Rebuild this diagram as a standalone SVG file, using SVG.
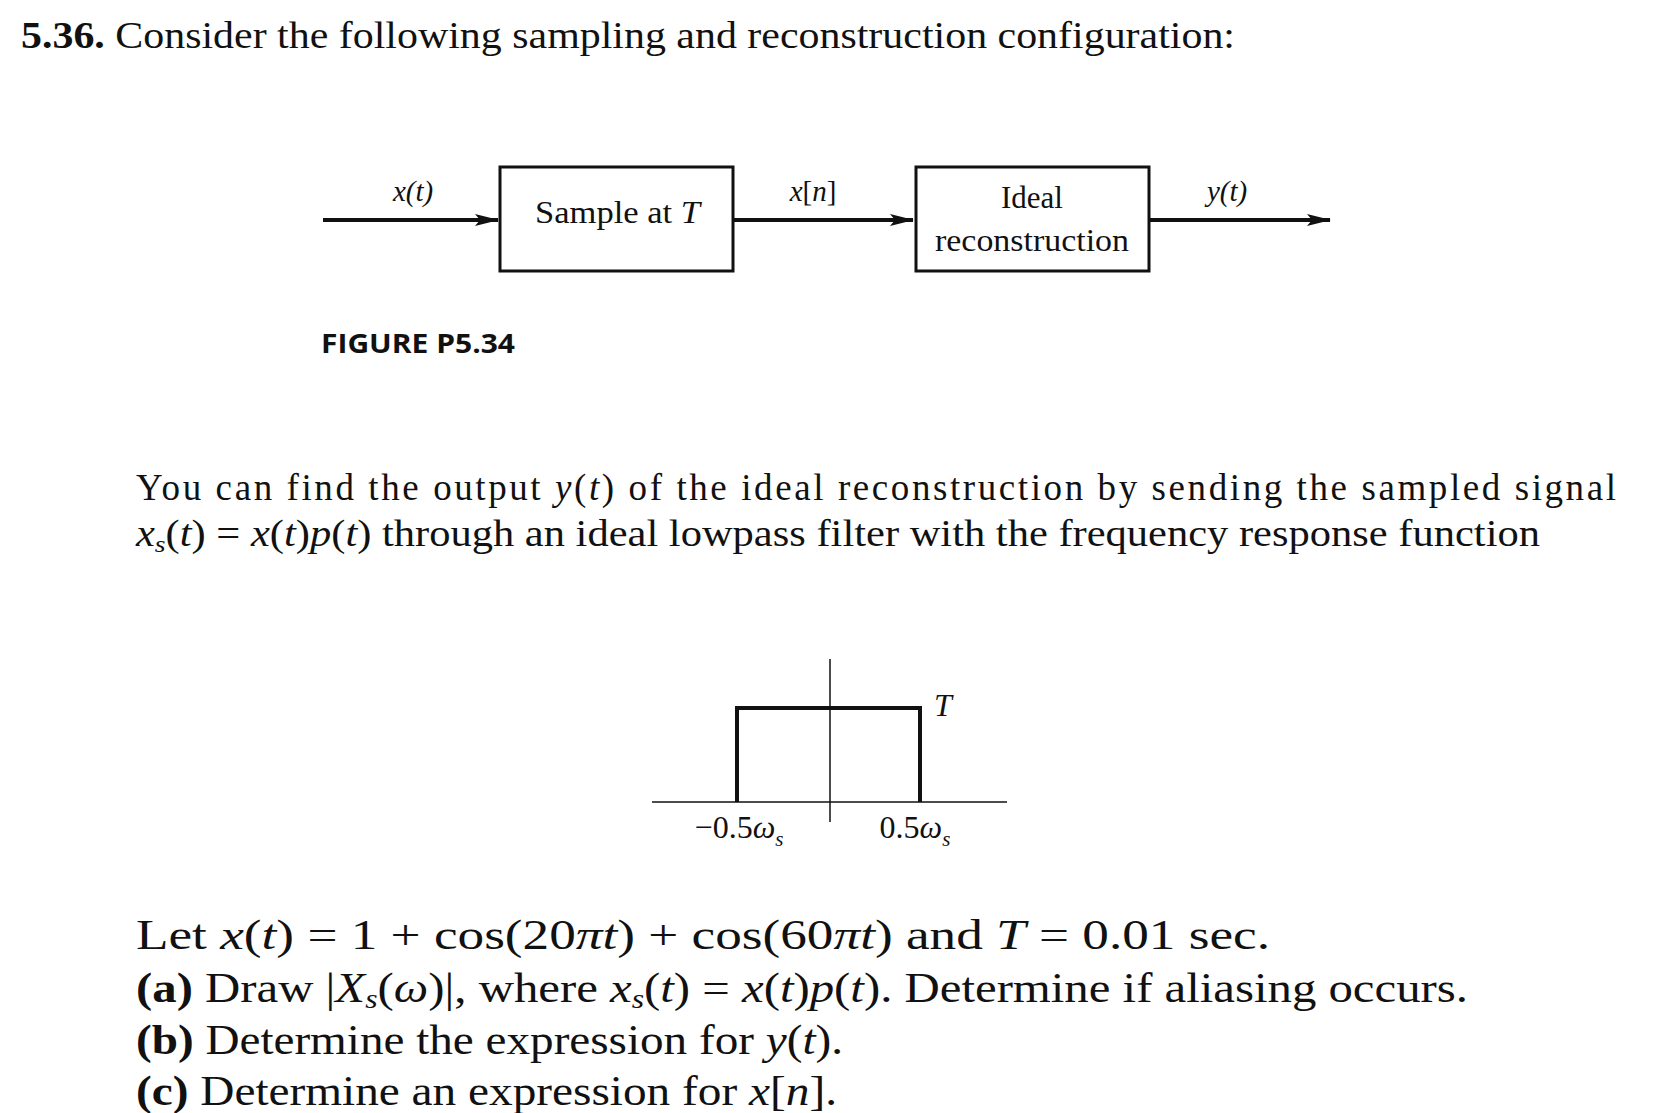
<svg xmlns="http://www.w3.org/2000/svg" width="1653" height="1113" viewBox="0 0 1653 1113">
<style>
text{font-family:"Liberation Serif","Times New Roman",serif;fill:#111}
.i{font-style:italic}
.b{font-weight:bold}
.box{fill:none;stroke:#111;stroke-width:3}
.ln{stroke:#111;stroke-width:4;fill:none}
.ax{stroke:#111;stroke-width:1.5;fill:none}
</style>
<defs>
<marker id="ah2" markerWidth="24" markerHeight="12" refX="23" refY="6" orient="auto" markerUnits="userSpaceOnUse" viewBox="0 0 24 12"><path d="M0,0 L24,6 L0,12 L5,6z" fill="#111"/></marker></defs>
<rect width="1653" height="1113" fill="#fff"/>
<text x="21" y="48" font-size="37" textLength="1214" lengthAdjust="spacingAndGlyphs"><tspan class="b">5.36.</tspan> Consider the following sampling and reconstruction configuration:</text>
<g id="connectors">
<line class="ln" x1="323" y1="220" x2="498" y2="220" marker-end="url(#ah2)"/>
<line class="ln" x1="733" y1="220" x2="913" y2="220" marker-end="url(#ah2)"/>
<line class="ln" x1="1149" y1="220" x2="1330" y2="220" marker-end="url(#ah2)"/>
<text x="413" y="201" font-size="29" text-anchor="middle" class="i">x(t)</text>
<text x="813" y="201" font-size="29" text-anchor="middle"><tspan class="i">x</tspan>[<tspan class="i">n</tspan>]</text>
<text x="1227" y="201" font-size="29" text-anchor="middle" class="i">y(t)</text>
</g>
<g id="sample"><rect class="box" x="500" y="167" width="233" height="104"/><text x="535" y="223" font-size="32" textLength="165" lengthAdjust="spacingAndGlyphs">Sample at <tspan class="i">T</tspan></text></g>
<g id="recon"><rect class="box" x="916" y="167" width="233" height="104"/><text x="1032" y="208" font-size="31" text-anchor="middle">Ideal</text><text x="935" y="251" font-size="31" textLength="194" lengthAdjust="spacingAndGlyphs">reconstruction</text></g>
<text x="321" y="353" font-size="27" font-weight="bold" textLength="194" lengthAdjust="spacingAndGlyphs" style="font-family:'Open Sans','Liberation Sans',sans-serif">FIGURE P5.34</text>
<text x="136" y="500" font-size="37" textLength="1480" lengthAdjust="spacing">You can find the output <tspan class="i">y</tspan>(<tspan class="i">t</tspan>) of the ideal reconstruction by sending the sampled signal</text>
<text x="136" y="546" font-size="37" textLength="1404" lengthAdjust="spacingAndGlyphs"><tspan class="i">x</tspan><tspan class="i" font-size="24" dy="6">s</tspan><tspan dy="-6">(</tspan><tspan class="i">t</tspan>) = <tspan class="i">x</tspan>(<tspan class="i">t</tspan>)<tspan class="i">p</tspan>(<tspan class="i">t</tspan>) through an ideal lowpass filter with the frequency response function</text>
<g id="plot">
<line class="ax" x1="652" y1="802" x2="1007" y2="802"/>
<line class="ax" x1="830" y1="659" x2="830" y2="822"/>
<path class="ln" d="M737,802 V708 H920 V802"/>
<text x="943" y="716" font-size="32" class="i" text-anchor="middle">T</text>
<text x="739" y="838" font-size="32" text-anchor="middle">−0.5<tspan class="i">ω</tspan><tspan class="i" font-size="21" dy="8">s</tspan></text>
<text x="915" y="838" font-size="32" text-anchor="middle">0.5<tspan class="i">ω</tspan><tspan class="i" font-size="21" dy="8">s</tspan></text>
</g>
<text x="136" y="949" font-size="43" textLength="1134" lengthAdjust="spacingAndGlyphs">Let <tspan class="i">x</tspan>(<tspan class="i">t</tspan>) = 1 + cos(20<tspan class="i">πt</tspan>) + cos(60<tspan class="i">πt</tspan>) and <tspan class="i">T</tspan> = 0.01 sec.</text>
<text x="136" y="1002" font-size="43" textLength="1332" lengthAdjust="spacingAndGlyphs"><tspan class="b">(a)</tspan> Draw |<tspan class="i">X</tspan><tspan class="i" font-size="28" dy="6">s</tspan><tspan dy="-6">(</tspan><tspan class="i">ω</tspan>)|, where <tspan class="i">x</tspan><tspan class="i" font-size="28" dy="6">s</tspan><tspan dy="-6">(</tspan><tspan class="i">t</tspan>) = <tspan class="i">x</tspan>(<tspan class="i">t</tspan>)<tspan class="i">p</tspan>(<tspan class="i">t</tspan>). Determine if aliasing occurs.</text>
<text x="136" y="1054" font-size="43" textLength="707" lengthAdjust="spacingAndGlyphs"><tspan class="b">(b)</tspan> Determine the expression for <tspan class="i">y</tspan>(<tspan class="i">t</tspan>).</text>
<text x="136" y="1105" font-size="43" textLength="701" lengthAdjust="spacingAndGlyphs"><tspan class="b">(c)</tspan> Determine an expression for <tspan class="i">x</tspan>[<tspan class="i">n</tspan>].</text>
</svg>
